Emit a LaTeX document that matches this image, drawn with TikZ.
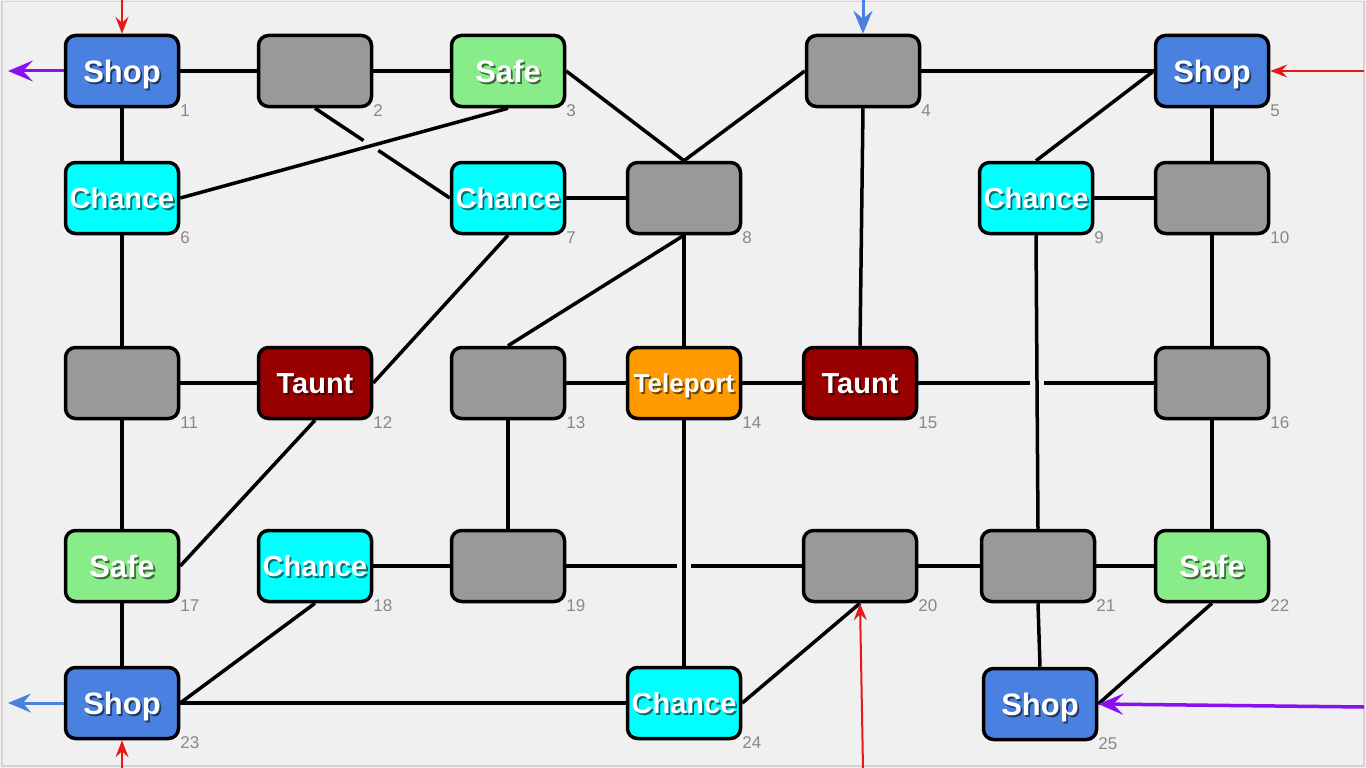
\documentclass[tikz,border=0pt]{standalone}
\usepackage{fontspec}
\setmainfont{Liberation Sans}
\usetikzlibrary{arrows.meta,calc}
\definecolor{bgc}{RGB}{240,240,240}
\definecolor{framec}{RGB}{212,212,212}
\definecolor{shopc}{RGB}{74,128,224}
\definecolor{grayc}{RGB}{153,153,153}
\definecolor{safec}{RGB}{136,236,136}
\definecolor{chancec}{RGB}{0,255,255}
\definecolor{telec}{RGB}{255,153,0}
\definecolor{tauntc}{RGB}{153,0,0}
\definecolor{numc}{RGB}{136,136,136}
\definecolor{arrred}{RGB}{232,24,24}
\definecolor{arrpur}{RGB}{138,16,240}
\newcommand\shtxt[2]{%
  \makebox[0pt][l]{\hspace{1.8pt}\raisebox{-2.2pt}{\textcolor{black!55!#2}{#1}}}#1}
\tikzset{
  tile/.style={draw=black, line width=3.5pt, rounded corners=10pt,
    minimum width=113pt, minimum height=71pt, inner sep=0pt,
    text=white, text height=22pt, text depth=0pt,
    font=\bfseries\fontsize{31}{31}\selectfont},
  shoptile/.style={tile, fill=shopc},
  graytile/.style={tile, fill=grayc},
  safetile/.style={tile, fill=safec},
  chancetile/.style={tile, fill=chancec, text height=21pt,
    font=\bfseries\fontsize{29}{29}\selectfont},
  teletile/.style={tile, fill=telec, text height=19pt,
    font=\bfseries\fontsize{26}{26}\selectfont},
  taunttile/.style={tile, fill=tauntc, text height=21pt,
    font=\bfseries\fontsize{29}{29}\selectfont},
  num/.style={text=numc, font=\mdseries\fontsize{17}{17}\selectfont,
    anchor=west, inner sep=0pt, xshift=0pt, yshift=-2pt},
  link/.style={line width=3.5pt, draw=black},
  redarr/.style={line width=2pt, draw=arrred,
    -{Stealth[length=17pt,width=13pt,inset=6pt]}},
  purarr/.style={line width=3pt, draw=arrpur,
    -{Stealth[length=25pt,width=21pt,inset=10pt]}},
  bluarr/.style={line width=3pt, draw=shopc,
    -{Stealth[length=23pt,width=19pt,inset=8pt]}},
}
\begin{document}
\begin{tikzpicture}[x=1pt,y=-1pt]
\useasboundingbox (0,0) rectangle (1366,768);
\fill[bgc] (0,0) rectangle (1366,768);
\draw[framec, line width=1.2pt] (2,1.5) rectangle (1364,766);

% row 1
\node[shoptile,  label={[num]south east:1}] (n1) at (122,71) {\shtxt{Shop}{shopc}};
\node[graytile,  label={[num]south east:2}] (n2) at (315,71) {};
\node[safetile,  label={[num]south east:3}] (n3) at (508,71) {\shtxt{Safe}{safec}};
\node[graytile,  label={[num]south east:4}] (n4) at (863,71) {};
\node[shoptile,  label={[num]south east:5}] (n5) at (1212,71) {\shtxt{Shop}{shopc}};
% row 2
\node[chancetile,label={[num]south east:6}] (n6) at (122,198) {\shtxt{Chance}{chancec}};
\node[chancetile,label={[num]south east:7}] (n7) at (508,198) {\shtxt{Chance}{chancec}};
\node[graytile,  label={[num]south east:8}] (n8) at (684,198) {};
\node[chancetile,label={[num]south east:9}] (n9) at (1036,198) {\shtxt{Chance}{chancec}};
\node[graytile,  label={[num]south east:10}] (n10) at (1212,198) {};
% row 3
\node[graytile,  label={[num]south east:11}] (n11) at (122,383) {};
\node[taunttile, label={[num]south east:12}] (n12) at (315,383) {\shtxt{Taunt}{tauntc}};
\node[graytile,  label={[num]south east:13}] (n13) at (508,383) {};
\node[teletile,  label={[num]south east:14}] (n14) at (684,383) {\shtxt{Teleport}{telec}};
\node[taunttile, label={[num]south east:15}] (n15) at (860,383) {\shtxt{Taunt}{tauntc}};
\node[graytile,  label={[num]south east:16}] (n16) at (1212,383) {};
% row 4
\node[safetile,  label={[num]south east:17}] (n17) at (122,566) {\shtxt{Safe}{safec}};
\node[chancetile,label={[num]south east:18}] (n18) at (315,566) {\shtxt{Chance}{chancec}};
\node[graytile,  label={[num]south east:19}] (n19) at (508,566) {};
\node[graytile,  label={[num]south east:20}] (n20) at (860,566) {};
\node[graytile,  label={[num]south east:21}] (n21) at (1038,566) {};
\node[safetile,  label={[num]south east:22}] (n22) at (1212,566) {\shtxt{Safe}{safec}};
% row 5
\node[shoptile,  label={[num]south east:23}] (n23) at (122,703) {\shtxt{Shop}{shopc}};
\node[chancetile,label={[num]south east:24}] (n24) at (684,703) {\shtxt{Chance}{chancec}};
\node[shoptile,  label={[num]south east:25}] (n25) at (1040,704) {\shtxt{Shop}{shopc}};

% gap coordinates
\coordinate (g1) at ($(n2.south)!0.36!(n7.west)$);
\coordinate (g2) at ($(n2.south)!0.47!(n7.west)$);
\coordinate (g3) at (1030,383);
\coordinate (g4) at (1044,383);
\coordinate (g5) at (677,566);
\coordinate (g6) at (691,566);

% connectors
\draw[link] (n1.east) -- (n2.west);
\draw[link] (n2.east) -- (n3.west);
\draw[link] (n1.south) -- (n6.north);
\draw[link] (n2.south) -- (g1);
\draw[link] (g2) -- (n7.west);
\draw[link] (n3.south) -- (n6.east);
\draw[link] (n3.east) -- (n8.north);
\draw[link] (n7.east) -- (n8.west);
\draw[link] (n8.north) -- (n4.west);
\draw[link] (n4.east) -- (n5.west);
\draw[link] (n4.south) -- (n15.north);
\draw[link] (n5.west) -- (n9.north);
\draw[link] (n5.south) -- (n10.north);
\draw[link] (n9.east) -- (n10.west);
\draw[link] (n6.south) -- (n11.north);
\draw[link] (n11.east) -- (n12.west);
\draw[link] (n12.east) -- (n7.south);
\draw[link] (n8.south) -- (n13.north);
\draw[link] (n8.south) -- (n14.north);
\draw[link] (n13.east) -- (n14.west);
\draw[link] (n14.east) -- (n15.west);
\draw[link] (n15.east) -- (g3);
\draw[link] (g4) -- (n16.west);
\draw[link] (n10.south) -- (n16.north);
\draw[link] (n9.south) -- (n21.north);
\draw[link] (n11.south) -- (n17.north);
\draw[link] (n12.south) -- (n17.east);
\draw[link] (n13.south) -- (n19.north);
\draw[link] (n14.south) -- (n24.north);
\draw[link] (n16.south) -- (n22.north);
\draw[link] (n17.south) -- (n23.north);
\draw[link] (n18.south) -- (n23.east);
\draw[link] (n18.east) -- (n19.west);
\draw[link] (n19.east) -- (g5);
\draw[link] (g6) -- (n20.west);
\draw[link] (n20.east) -- (n21.west);
\draw[link] (n21.east) -- (n22.west);
\draw[link] (n21.south) -- (n25.north);
\draw[link] (n22.south) -- (n25.east);
\draw[link] (n23.east) -- (n24.west);
\draw[link] (n24.east) -- (n20.south);

% entry / exit arrows
\coordinate (a1) at (122,0);
\coordinate (a2) at (8,71);
\coordinate (a3) at (863,0);
\coordinate (a4) at (1364,71);
\coordinate (a5) at (8,703);
\coordinate (a6) at (122,768);
\coordinate (a7) at (863,768);
\coordinate (a8) at (1364,707);
\draw[redarr] (a1) -- (n1.north);
\draw[purarr] (n1.west) -- (a2);
\draw[bluarr] (a3) -- (n4.north);
\draw[redarr] (a4) -- (n5.east);
\draw[bluarr] (n23.west) -- (a5);
\draw[redarr] (a6) -- (n23.south);
\draw[redarr] (a7) -- (n20.south);
\draw[purarr, line width=3.5pt] (a8) -- (n25.east);
\end{tikzpicture}
\end{document}
